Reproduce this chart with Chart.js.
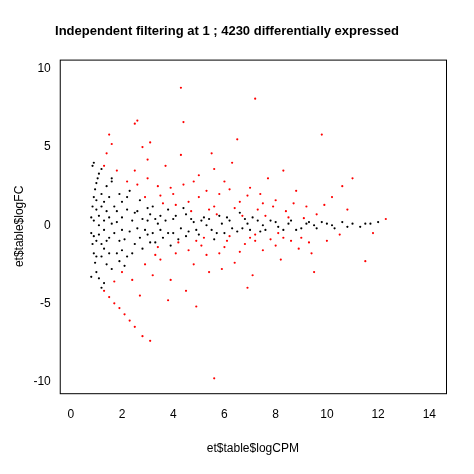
<!DOCTYPE html>
<html><head><meta charset="utf-8">
<script src="https://cdn.jsdelivr.net/npm/chart.js@4"></script>
<style>body{margin:0;background:#fff}</style></head>
<body><canvas id="c" width="474" height="474"></canvas>
<script>
const blackPts=[0.8,-0.5,0.8,0.5,0.85,1.2,0.85,-1.2,0.9,1.8,0.9,-1.8,0.95,2.3,0.95,-2.4,1.0,2.7,1.0,-3.0,1.05,3.0,1.1,3.3,1.1,-3.4,0.8,-3.3,0.85,3.8,0.9,4.0,1.2,3.6,1.0,-1.0,1.0,1.0,1.1,0,1.2,-2,1.2,2,1.3,-1.5,1.3,1.5,1.4,2.5,1.4,-2.5,1.5,0.5,1.5,-0.8,1.6,2.8,1.6,-2.8,1.7,1.2,1.8,-1.8,1.9,2.0,2.0,-0.3,2.0,1.5,2.2,-2.0,2.3,2.2,2.5,-1.2,2.5,0.8,2.7,1.6,2.8,-1.5,3.0,0.3,3.0,-0.6,3.2,1.2,3.3,-1.1,3.5,0.6,3.6,-0.8,3.8,1.0,4.0,-0.5,4.0,0.4,4.2,-0.9,4.5,0.7,4.6,-0.4,4.8,0.2,5.0,-0.6,5.2,0.5,5.5,-0.3,5.8,0.6,6.0,-0.5,6.2,0.3,6.5,-0.4,6.8,0.4,7.0,-0.3,7.3,0.3,7.6,-0.3,8.0,0.2,8.3,-0.3,8.6,0.3,9.0,-0.2,9.3,0.2,9.6,-0.2,10.0,0.1,10.3,-0.2,10.6,0.2,11.0,0.1,11.3,-0.1,11.7,0.1,12.0,0.2,1.3,-3.7,1.2,-4.0,2.4,-1.8,1.8,0.2,2.6,-0.2,3.4,0.1,5.3,0.0,7.5,0.0,9.5,0.0,4.4,1.1,5.6,-0.9,6.6,0.8,3.9,-1.3,2.1,-2.6,1.6,3.0,1.9,-2.3,
1.1,0.6,1.1,-0.6,1.2,1.2,1.2,-1.2,1.3,0.3,1.3,-0.3,1.4,0.9,1.4,-1.0,1.5,1.8,1.5,-1.8,1.6,0.1,1.7,-0.5,1.8,0.9,1.9,-1.0,2.0,0.5,2.1,-0.9,2.2,1.0,2.3,-0.4,2.4,0.3,2.6,0.9,2.7,-0.8,2.8,0.4,2.9,-0.3,3.1,0.7,3.2,-0.5,3.3,0.4,3.5,-0.3,3.7,0.3,3.8,-0.5,4.1,0.6,4.3,-0.2,4.5,-0.7,4.7,0.4,4.9,-0.3,5.1,0.3,5.4,0.4,5.7,-0.5,5.9,0.1,6.1,0.5,6.3,-0.2,6.7,-0.2,6.9,0.1,7.1,0.5,7.4,-0.4,7.8,0.3,8.1,-0.1,8.5,0.1,8.8,-0.3,9.2,0.1,9.8,0.2,10.2,0.0,10.8,-0.1,11.5,0.1,2.0,-1.6,2.2,1.8,3.0,1.1,3.1,-1.1,0.9,0.3,0.9,-0.7,1.0,1.6,1.0,-2.0];
const redPts=[1.5,5.8,1.6,5.2,1.4,4.6,1.3,3.8,2.5,6.5,2.6,6.7,1.3,-4.2,1.5,-4.6,1.7,-5.0,1.9,-5.3,2.1,-5.7,2.3,-6.1,2.5,-6.5,2.8,-7.1,3.1,-7.4,4.3,8.8,4.4,6.6,7.2,8.1,5.6,-9.8,2.8,5.0,3.0,4.2,2.5,3.5,2.2,2.8,2.0,-3.0,2.4,-3.5,2.7,-4.5,3.0,3.0,3.2,-3.2,3.4,2.5,3.5,-2.2,3.7,3.8,3.9,-3.5,4.0,2.0,4.1,-1.8,4.3,4.5,4.5,-4.2,4.6,1.5,4.8,-2.5,5.0,3.2,5.1,-1.3,5.3,2.2,5.4,-3.0,5.6,1.2,5.8,-1.8,6.0,2.8,6.1,-1.0,6.3,4.0,6.4,-2.4,6.6,1.5,6.8,-1.2,7.0,2.4,7.1,-3.2,7.3,1.0,7.5,-1.6,7.7,3.0,7.8,-0.9,8.0,1.6,8.2,-2.2,8.4,0.9,8.6,-1.0,8.8,2.2,9.0,-0.8,9.2,1.2,9.4,-1.8,9.6,0.7,9.8,5.8,10.0,-1.0,10.2,1.8,10.5,-0.6,10.8,1.0,11.0,3.0,11.5,-2.3,12.3,0.4,11.8,-0.5,2.9,1.8,3.3,-1.9,3.6,1.4,4.2,-1.1,4.7,0.9,5.2,-0.8,5.7,0.7,6.2,-0.7,6.7,0.6,7.2,-0.6,7.6,0.6,8.1,-0.5,8.5,0.5,9.1,0.45,1.8,3.5,1.7,-3.6,3.8,-4.8,5.5,4.6,6.9,-4.0,8.3,3.5,4.9,-5.2,6.5,5.5,3.1,5.3,9.5,-3.0,5.9,-2.8,4.4,2.6,7.4,2.0,8.9,-1.5,10.6,2.5,
3.5,1.9,3.9,2.4,4.1,1.3,4.6,-1.6,5.0,1.8,5.4,1.0,5.8,2.0,6.0,-1.4,6.4,1.1,6.9,1.9,7.2,-1.0,7.9,1.2,8.3,-0.8,8.7,1.4,9.3,-1.1,9.9,1.3,4.9,-1.0,5.3,-1.9,6.6,-1.7,7.0,-0.8,3.4,-1.4,2.9,-2.5,2.6,2.6,4.8,2.8,5.6,3.6,6.2,2.3,7.5,1.4,8.0,-1.3];
const xTicks=[0,2,4,6,8,10,12,14];
const yTicks=[-10,-5,0,5,10];
function toXY(a){const o=[];for(let i=0;i<a.length;i+=2)o.push({x:a[i],y:a[i+1]});return o;}
const frame={id:'frame',afterDraw(c){const a=c.chartArea,g=c.ctx;g.save();g.strokeStyle='#000';g.lineWidth=1;g.strokeRect(a.left+0.5,a.top+0.5,a.width,a.height);g.restore();}};
const F='Liberation Sans, Arial, sans-serif';
new Chart(document.getElementById('c'),{type:'scatter',
data:{datasets:[
{data:toXY(blackPts),backgroundColor:'#000',borderWidth:0,pointRadius:1.1},
{data:toXY(redPts),backgroundColor:'#f00',borderWidth:0,pointRadius:1.1}]},
options:{responsive:false,animation:false,
layout:{padding:{left:8,right:28,top:0,bottom:14}},
plugins:{legend:{display:false},tooltip:{enabled:false},
title:{display:true,text:'Independent filtering at 1 ; 4230 differentially expressed',font:{family:F,size:13,weight:'bold'},color:'#000',padding:{top:24,bottom:20}}},
scales:{
x:{type:'linear',min:-0.43,max:14.65,afterBuildTicks(s){s.ticks=xTicks.map(v=>({value:v}));},
grid:{display:false,drawTicks:true,tickLength:6,color:'#000'},border:{display:false},
ticks:{color:'#000',font:{family:F,size:12},maxRotation:0,padding:8},
title:{display:true,text:'et$table$logCPM',color:'#000',font:{family:F,size:12},padding:{top:12}}},
y:{type:'linear',min:-10.75,max:10.6,afterBuildTicks(s){s.ticks=yTicks.map(v=>({value:v}));},
grid:{display:false,drawTicks:true,tickLength:6,color:'#000'},border:{display:false},
ticks:{color:'#000',font:{family:F,size:12}},
title:{display:true,text:'et$table$logFC',color:'#000',font:{family:F,size:12}}}}},
plugins:[frame]});
</script></body></html>
